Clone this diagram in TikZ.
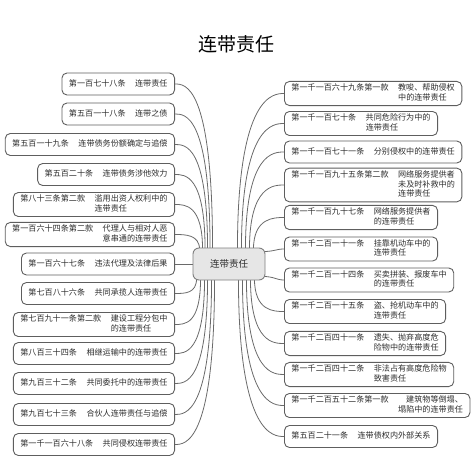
\documentclass[tikz,border=0pt]{standalone}
\usepackage{fontspec}
\setmainfont{Noto Sans CJK SC}
\pgfdeclarelayer{bg}
\pgfsetlayers{bg,main}
\definecolor{boxline}{HTML}{5E5E5E}
\definecolor{txt}{HTML}{2E2E2E}
\definecolor{conncol}{HTML}{6A6A6A}
\definecolor{hubfill}{HTML}{E6E6E6}
\newcommand\artl[2]{\begin{tabular}{@{}l@{\hspace{9.5pt}}l@{}}#1 & #2\end{tabular}}
\newcommand\artr[2]{\begin{tabular}{@{}l@{\hspace{9.5pt}}r@{}}#1 & #2\end{tabular}}
\tikzset{
  item/.style={draw=boxline, line width=0.9pt, rounded corners=5pt, fill=white,
    text=txt, inner xsep=7pt, inner ysep=2.5pt, minimum height=22pt,
    font=\fontsize{8.1}{9}\selectfont},
  litem/.style={item, anchor=east},
  ritem/.style={item, anchor=west},
  hub/.style={draw=boxline!80, line width=0.9pt, rounded corners=6pt, fill=hubfill,
    text=txt, minimum width=72pt, minimum height=32pt, font=\fontsize{9.5}{10}\selectfont},
  conn/.style={draw=conncol, line width=0.8pt},
}
\begin{document}
\begin{tikzpicture}[x=1pt, y=-1pt]
\useasboundingbox (0,0) rectangle (474,460);
\node[text=black, font=\fontsize{19}{20}\selectfont] (title) at (236,44) {连带责任};
\node[hub] (c) at (229,264) {连带责任};
% left
\node[litem] (b1) at (175,84) {\artl{第一百七十八条}{连带责任}};
\node[litem] (b2) at (175,114) {\artl{第五百一十八条}{连带之债}};
\node[litem] (b3) at (175,144.5) {\artl{第五百一十九条}{连带债务份额确定与追偿}};
\node[litem] (b4) at (175,174.5) {\artl{第五百二十条}{连带债务涉他效力}};
\node[litem] (b5) at (175,204.5) {\artl{第八十三条第二款}{滥用出资人权利中的\\ & 连带责任}};
\node[litem] (b6) at (175,234.5) {\artl{第一百六十四条第二款}{代理人与相对人恶\\ & 意串通的连带责任}};
\node[litem] (b7) at (175,264) {\artl{第一百六十七条}{违法代理及法律后果}};
\node[litem] (b8) at (175,293.5) {\artl{第七百八十六条}{共同承揽人连带责任}};
\node[litem] (b9) at (175,324.5) {\artl{第七百九十一条第二款}{建设工程分包中\\ & 的连带责任}};
\node[litem] (b10) at (175,353.5) {\artl{第八百三十四条}{相继运输中的连带责任}};
\node[litem] (b11) at (175,383.5) {\artl{第九百三十二条}{共同委托中的连带责任}};
\node[litem] (b12) at (175,414.5) {\artl{第九百七十三条}{合伙人连带责任与追偿}};
\node[litem] (b13) at (175,444.5) {\artl{第一千一百六十八条}{共同侵权连带责任}};
% right
\node[ritem] (r1) at (284,93.5) {\artl{第一千一百六十九条第一款}{教唆、帮助侵权\\ & 中的连带责任}};
\node[ritem] (r2) at (284,123.5) {\artl{第一千一百七十条}{共同危险行为中的\\ & 连带责任}};
\node[ritem] (r3) at (284,152) {\artl{第一千一百七十一条}{分别侵权中的连带责任}};
\node[ritem] (r4) at (284,185) {\artl{第一千一百九十五条第二款}{网络服务提供者\\ & 未及时补救中的\\ & 连带责任}};
\node[ritem] (r5) at (284,217.5) {\artl{第一千一百九十七条}{网络服务提供者\\ & 的连带责任}};
\node[ritem] (r6) at (284,249) {\artl{第一千二百一十一条}{挂靠机动车中的\\ & 连带责任}};
\node[ritem] (r7) at (284,280) {\artl{第一千二百一十四条}{买卖拼装、报废车中\\ & 的连带责任}};
\node[ritem] (r8) at (284,311.5) {\artl{第一千二百一十五条}{盗、抢机动车中的\\ & 连带责任}};
\node[ritem] (r9) at (284,343.5) {\artl{第一千二百四十一条}{遗失、抛弃高度危\\ & 险物中的连带责任}};
\node[ritem] (r10) at (284,374.5) {\artl{第一千二百四十二条}{非法占有高度危险物\\ & 致害责任}};
\node[ritem] (r11) at (284,405.5) {\artr{第一千二百五十二条第一款}{建筑物等倒塌、\\ & 塌陷中的连带责任}};
\node[ritem] (r12) at (284,436.5) {\artl{第五百二十一条}{连带债权内外部关系}};
\begin{pgfonlayer}{bg}
  \foreach \b/\s in {b1/20, b2/17.5, b3/15, b4/12.5, b5/10, b6/7} {
    \path ([xshift=\s pt, yshift=-2pt]c.north west) coordinate (s);
    \draw[conn] (s) .. controls (s |- \b.east) and ([xshift=10pt]\b.east) .. (\b.east);
  }
  \foreach \b/\s in {b8/4, b9/8, b10/12, b11/15, b12/19, b13/22} {
    \path ([xshift=\s pt, yshift=2pt]c.south west) coordinate (s);
    \draw[conn] (s) .. controls (s |- \b.east) and ([xshift=10pt]\b.east) .. (\b.east);
  }
  \foreach \b/\s in {r1/-28, r2/-24, r3/-20, r4/-16, r5/-12} {
    \path ([xshift=\s pt, yshift=-2pt]c.north east) coordinate (s);
    \draw[conn] (s) .. controls (s |- \b.west) and ([xshift=-10pt]\b.west) .. (\b.west);
  }
  \foreach \b/\s in {r8/-11, r9/-15, r10/-19, r11/-23, r12/-27} {
    \path ([xshift=\s pt, yshift=2pt]c.south east) coordinate (s);
    \draw[conn] (s) .. controls (s |- \b.west) and ([xshift=-10pt]\b.west) .. (\b.west);
  }
  \draw[conn] (c.west) -- (b7.east);
  \path ([xshift=-3pt, yshift=-4pt]c.north east) coordinate (s6);
  \draw[conn] (s6) .. controls +(12,0) and ([xshift=-8pt]r6.west) .. (r6.west);
  \path ([xshift=-3pt, yshift=4pt]c.south east) coordinate (s7);
  \draw[conn] (s7) .. controls +(12,0) and ([xshift=-8pt]r7.west) .. (r7.west);
\end{pgfonlayer}
\end{tikzpicture}
\end{document}
